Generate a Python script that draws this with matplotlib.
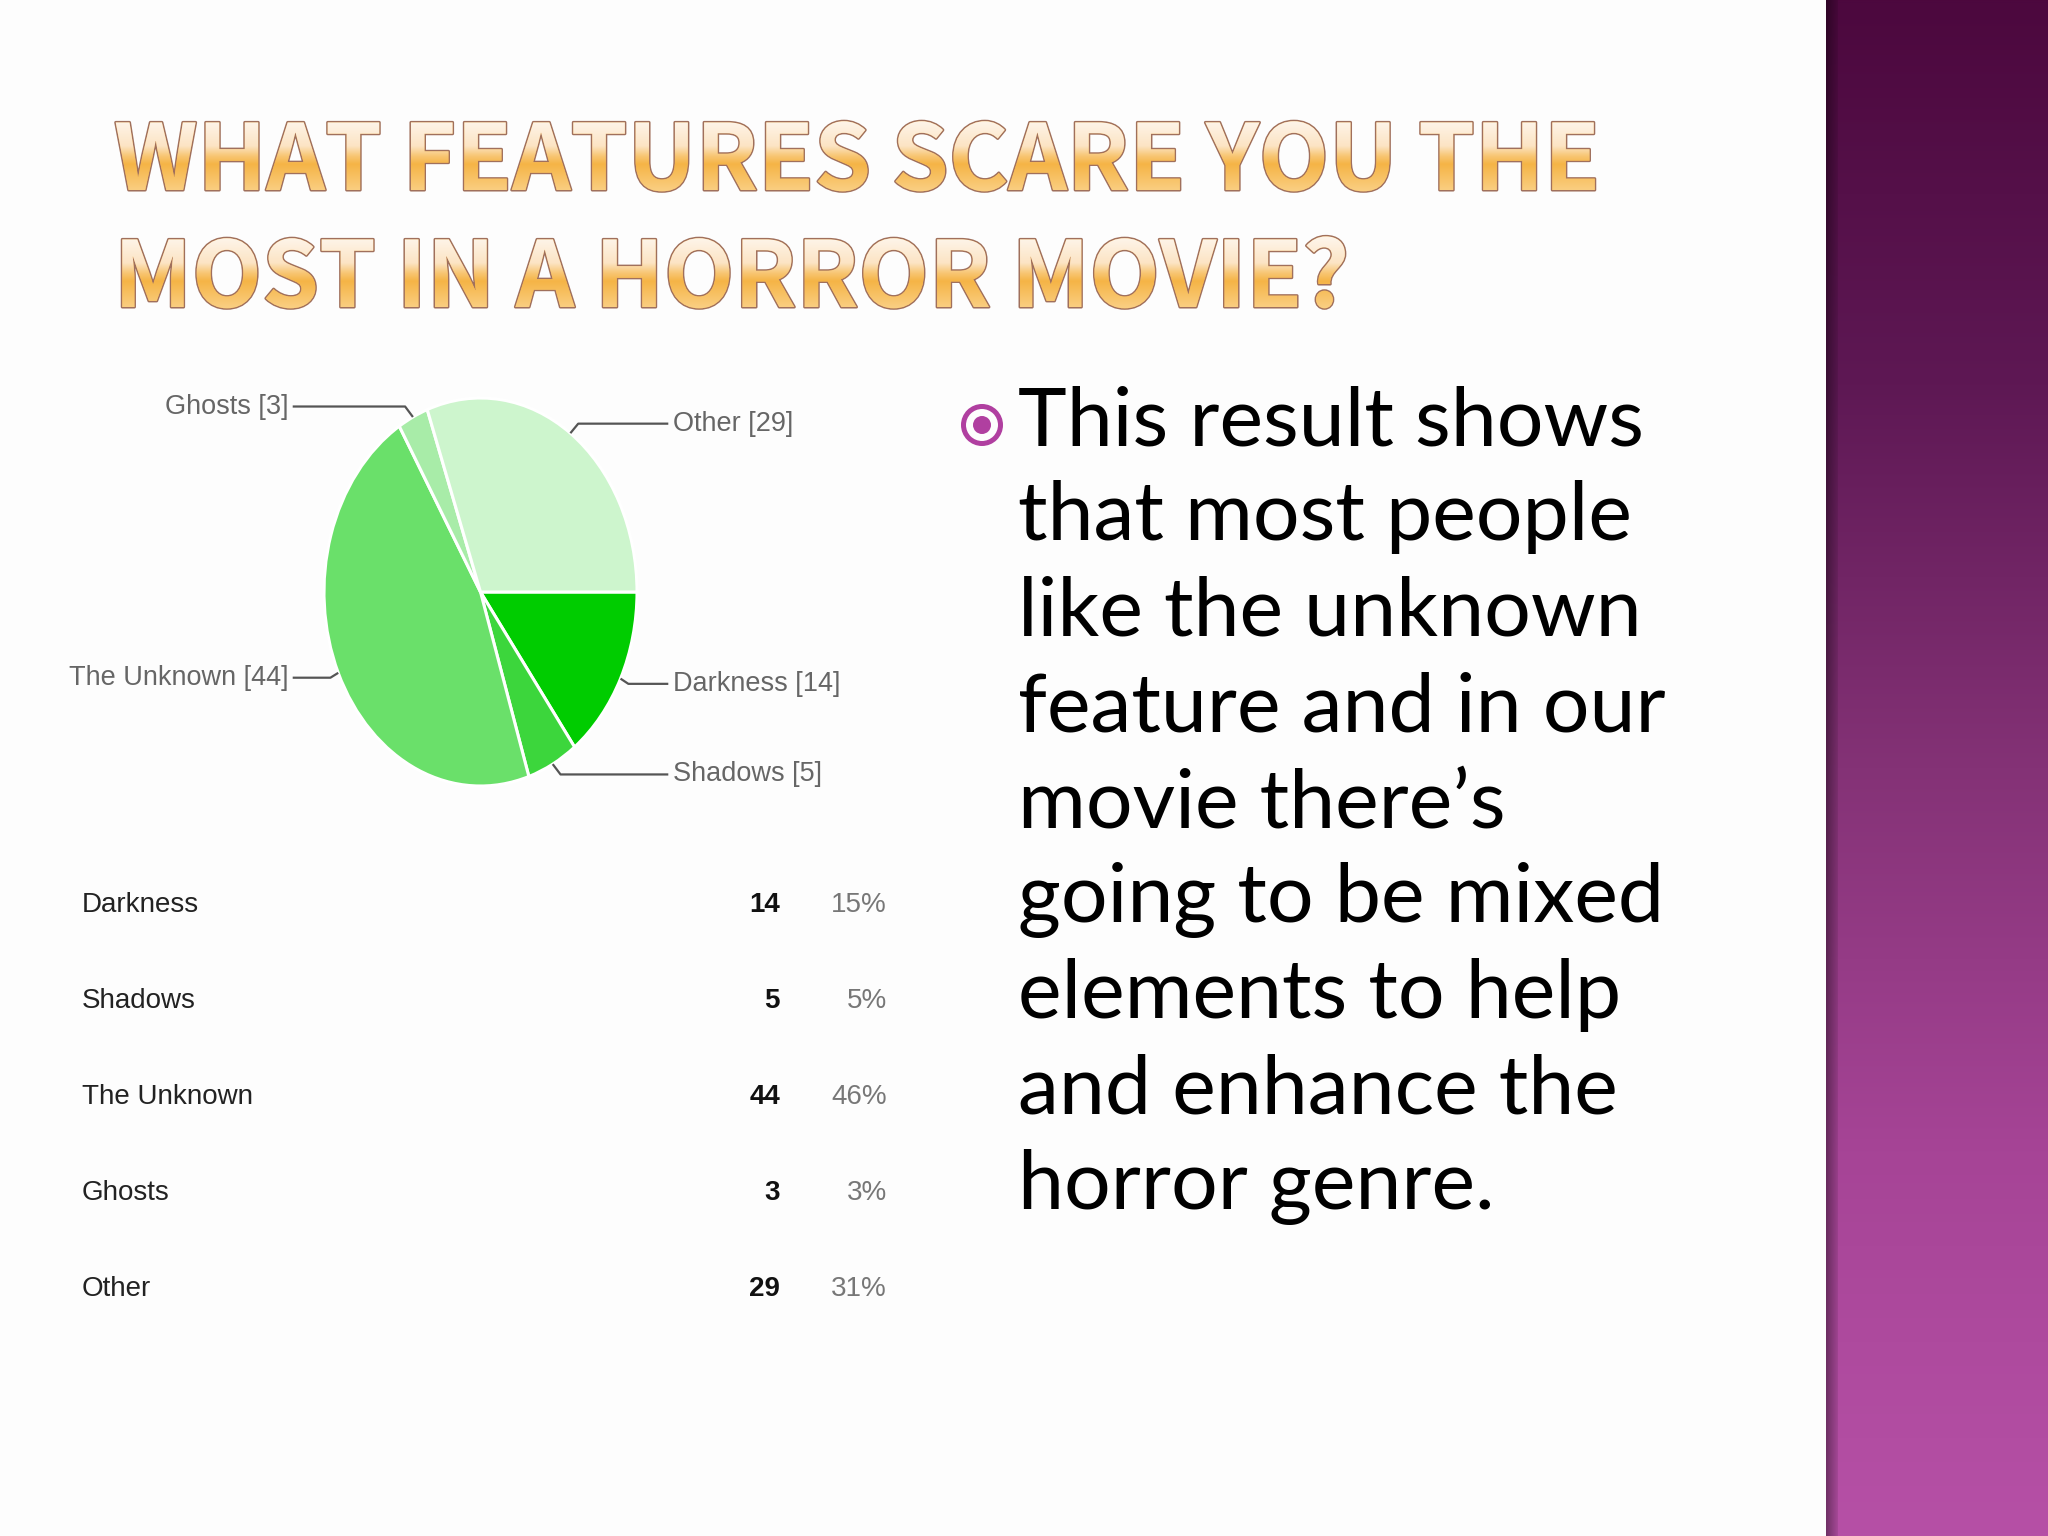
import matplotlib
matplotlib.use("Agg")
import matplotlib.pyplot as plt
import numpy as np
from matplotlib import font_manager
from matplotlib.font_manager import FontProperties
from matplotlib.textpath import TextPath
from matplotlib.transforms import Affine2D
from matplotlib.patches import Circle
import matplotlib.patheffects as pe

# ---------------- data ----------------
title_lines = ["WHAT FEATURES SCARE YOU THE", "MOST IN A HORROR MOVIE?"]
categories = ["Darkness", "Shadows", "The Unknown", "Ghosts", "Other"]
counts = [14, 5, 44, 3, 29]
slice_colors = ["#00cc00", "#3cd63c", "#6ae06a", "#a8eca8", "#cdf5cd"]
body_lines = ["This result shows", "that most people", "like the unknown",
              "feature and in our", "movie there\u2019s", "going to be mixed",
              "elements to help", "and enhance the", "horror genre."]

W, H, DPI = 2048, 1536, 100

ttf = font_manager.fontManager.ttflist
names = {f.name for f in ttf}
narrow = "Liberation Sans Narrow" if "Liberation Sans Narrow" in names else None

fig = plt.figure(figsize=(W / DPI, H / DPI), dpi=DPI, facecolor="#fdfdfd")
bg = fig.add_axes([0, 0, 1, 1])
bg.set_facecolor("#fdfdfd")
bg.axis("off")

# ---------------- purple side bar ----------------
bar_x0 = 1826
ny = 300
t = np.linspace(0, 1, ny)
stops = np.array([[0.00, 76, 8, 62],
                  [0.25, 94, 24, 84],
                  [0.50, 132, 50, 118],
                  [0.75, 166, 68, 150],
                  [1.00, 182, 80, 166]])
cols = np.stack([np.interp(t, stops[:, 0], stops[:, i]) for i in (1, 2, 3)], axis=-1) / 255.0
nx = W - bar_x0
edge = np.ones(nx)
edge[:12] = np.linspace(0.62, 0.9, 12)
bar_img = np.clip(cols[:, None, :] * edge[None, :, None], 0, 1)
bg.imshow(bar_img, extent=[bar_x0, W, H, 0], aspect="auto", origin="upper",
          zorder=1, interpolation="bilinear")


# ---------------- title font choice (narrow, medium-bold sans) ----------------
def title_ratio(fp):
    w = TextPath((0, 0), title_lines[0], size=100, prop=fp).get_extents().width
    c = TextPath((0, 0), "H", size=100, prop=fp).get_extents().height
    return w / c


cands = []
for fam in ["Liberation Sans Narrow", "Noto Sans CJK JP", "Lato", "Open Sans",
            "Roboto", "Liberation Sans"]:
    if fam in names:
        cands.append(FontProperties(family=fam, weight="bold"))
if any(f.name == "DejaVu Sans" and "condensed" in str(f.stretch) for f in ttf):
    cands.append(FontProperties(family="DejaVu Sans", weight="bold", stretch="condensed"))
target_ratio = 1479 / 71
tfp = min(cands, key=lambda fp: abs(title_ratio(fp) - target_ratio))

ref_w = TextPath((0, 0), title_lines[0], size=100, prop=tfp).get_extents().width
size_px = 100 * 1479 / ref_w
title_pt = size_px * 72 / DPI
capH = TextPath((0, 0), "H", size=size_px, prop=tfp).get_extents().height
title_x = 114
title_baselines = [190, 307]
gstops = np.array([[0.00, 254, 244, 232],
                   [0.35, 252, 228, 196],
                   [0.50, 248, 198, 115],
                   [0.62, 245, 180, 70],
                   [1.00, 250, 206, 128]])
for line, b in zip(title_lines, title_baselines):
    bg.text(title_x, b, line, fontproperties=tfp, fontsize=title_pt, color="#f6b95c",
            ha="left", va="baseline", zorder=3,
            path_effects=[pe.withStroke(linewidth=2.2, foreground="#a0705c")])
    tp = TextPath((0, 0), line, size=size_px, prop=tfp)
    top, bot = b - capH - 8, b + 8
    ys = np.linspace(top, bot, 120)
    frac = (ys - (b - capH)) / capH
    g = np.stack([np.interp(frac, gstops[:, 0], gstops[:, i]) for i in (1, 2, 3)], axis=-1) / 255.0
    g = np.repeat(g[:, None, :], 4, axis=1)
    x1 = title_x + tp.get_extents().x1 + 10
    im = bg.imshow(g, extent=[title_x - 10, x1, bot, top], aspect="auto", origin="upper",
                   zorder=4, interpolation="bilinear")
    im.set_clip_path(tp, Affine2D().translate(title_x, H - b))

# ---------------- body text ----------------
bfp = FontProperties(family="Lato")
wref = TextPath((0, 0), "feature and in our", size=100, prop=bfp).get_extents().width
body_pt = (100 * 645 / wref) * 72 / DPI
for i, line in enumerate(body_lines):
    bg.text(1018, 445 + i * 95.5, line, fontproperties=bfp, fontsize=body_pt,
            color="black", ha="left", va="baseline", zorder=3)
bg.add_patch(Circle((982, 425), 18.5, fill=False, ec="#b03fa0", lw=3.6, zorder=3))
bg.add_patch(Circle((982, 425), 9, fc="#b03fa0", ec="none", zorder=3))

# ---------------- table ----------------
total = sum(counts)
pcts = [round(100 * c / total) for c in counts]
tfp2 = FontProperties(family="Liberation Sans")
tfp2b = FontProperties(family="Liberation Sans", weight="bold")
for i, (name, c, p) in enumerate(zip(categories, counts, pcts)):
    yb = 912 + i * 96
    bg.text(82, yb, name, fontproperties=tfp2, fontsize=20, color="#222222",
            ha="left", va="baseline")
    bg.text(780, yb, str(c), fontproperties=tfp2b, fontsize=20, color="#111111",
            ha="right", va="baseline")
    bg.text(887, yb, f"{p}%", fontproperties=tfp2, fontsize=20, color="#777777",
            ha="right", va="baseline")

bg.set_xlim(0, W)
bg.set_ylim(H, 0)

# ---------------- pie ----------------
pax = fig.add_axes([324 / W, (H - 786) / H, 313 / W, 388 / H])
wedges, _ = pax.pie(counts, colors=slice_colors, startangle=0, counterclock=False,
                    wedgeprops=dict(edgecolor="white", linewidth=2.2))
pax.set_aspect("auto")
pax.set_xlim(-1, 1)
pax.set_ylim(-1, 1)
pax.axis("off")

lfp = FontProperties(family=narrow or "Liberation Sans")
lsize = 22.5 if narrow else 19.5
for w, name, n in zip(wedges, categories, counts):
    mid = np.deg2rad((w.theta1 + w.theta2) / 2)
    ax_, ay = np.cos(mid), np.sin(mid)
    ly = ay * 1.06
    side = 1 if ax_ > 0 else -1
    elbow_x = ax_ + side * 0.05
    pax.plot([ax_, elbow_x, side * 1.2], [ay, ly, ly], color="#555555", lw=1.6,
             clip_on=False, solid_capstyle="butt")
    pax.text(side * 1.23, ly, f"{name} [{n}]", ha="left" if side > 0 else "right",
             va="center", fontproperties=lfp, fontsize=lsize, color="#666666")

fig.savefig("out.png", dpi=DPI, facecolor=fig.get_facecolor())
